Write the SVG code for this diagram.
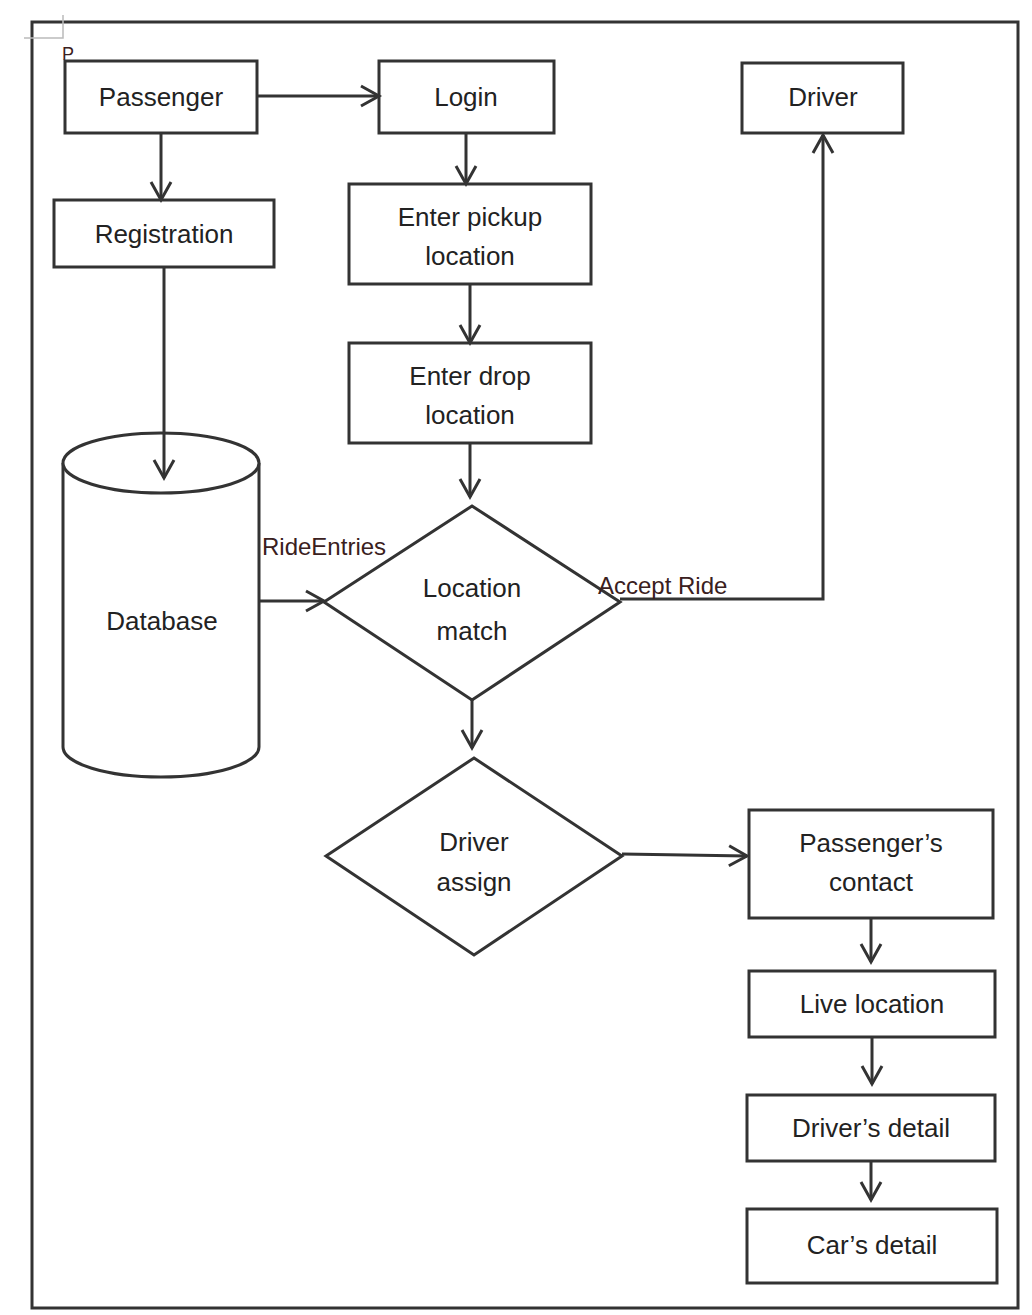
<svg xmlns="http://www.w3.org/2000/svg" width="1032" height="1315" viewBox="0 0 1032 1315">
<style>
.b{fill:#fff;stroke:#333;stroke-width:3}
.t{font-family:"Liberation Sans",Arial,sans-serif;font-size:26px;fill:#222;text-anchor:middle}
.l{font-family:"Liberation Sans",Arial,sans-serif;font-size:24px;fill:#3a2020}
.c{fill:none;stroke:#333;stroke-width:3}
</style>
<defs><marker id="a" markerWidth="24" markerHeight="24" refX="20" refY="12" orient="auto" markerUnits="userSpaceOnUse"><path d="M2,2 L20,12 L2,22" fill="none" stroke="#333" stroke-width="3"/></marker></defs>
<rect width="1032" height="1315" fill="#fff"/>
<rect x="32" y="22" width="986" height="1286" fill="none" stroke="#333" stroke-width="3"/>
<path d="M24,38 H63 V15" fill="none" stroke="#bbb" stroke-width="1.5"/>
<text x="62" y="60" class="l" style="font-size:18px">P</text>
<g id="passenger"><rect class="b" x="65" y="61" width="192" height="72"/><text class="t" x="161" y="106">Passenger</text></g>
<g id="login"><rect class="b" x="379" y="61" width="175" height="72"/><text class="t" x="466" y="106">Login</text></g>
<g id="driver"><rect class="b" x="742" y="63" width="161" height="70"/><text class="t" x="823" y="106">Driver</text></g>
<g id="registration"><rect class="b" x="54" y="200" width="220" height="67"/><text class="t" x="164" y="243">Registration</text></g>
<g id="pickup"><rect class="b" x="349" y="184" width="242" height="100"/><text class="t" x="470" y="226">Enter pickup</text><text class="t" x="470" y="265">location</text></g>
<g id="drop"><rect class="b" x="349" y="343" width="242" height="100"/><text class="t" x="470" y="385">Enter drop</text><text class="t" x="470" y="424">location</text></g>
<g id="database"><path class="b" d="M63,463 V747 A98,30 0 0 0 259,747 V463"/><ellipse class="b" cx="161" cy="463" rx="98" ry="30"/><text class="t" x="162" y="630">Database</text></g>
<g id="locmatch"><polygon class="b" points="472,506 620,602 472,700 324,602"/><text class="t" x="472" y="597">Location</text><text class="t" x="472" y="640">match</text></g>
<g id="assign"><polygon class="b" points="474,758 622,856 474,955 326,856"/><text class="t" x="474" y="851">Driver</text><text class="t" x="474" y="891">assign</text></g>
<g id="pcontact"><rect class="b" x="749" y="810" width="244" height="108"/><text class="t" x="871" y="852">Passenger’s</text><text class="t" x="871" y="891">contact</text></g>
<g id="live"><rect class="b" x="749" y="971" width="246" height="66"/><text class="t" x="872" y="1013">Live location</text></g>
<g id="ddetail"><rect class="b" x="747" y="1095" width="248" height="66"/><text class="t" x="871" y="1137">Driver’s detail</text></g>
<g id="cdetail"><rect class="b" x="747" y="1209" width="250" height="74"/><text class="t" x="872" y="1254">Car’s detail</text></g>
<g id="connectors">
<path class="c" d="M257,96 H379" marker-end="url(#a)"/>
<path class="c" d="M161,133 V200" marker-end="url(#a)"/>
<path class="c" d="M466,133 V184" marker-end="url(#a)"/>
<path class="c" d="M470,284 V343" marker-end="url(#a)"/>
<path class="c" d="M470,443 V497" marker-end="url(#a)"/>
<path class="c" d="M164,267 V478" marker-end="url(#a)"/>
<path class="c" d="M259,601 H324" marker-end="url(#a)"/>
<path class="c" d="M620,599 H823 V135" marker-end="url(#a)"/>
<path class="c" d="M472,700 V748" marker-end="url(#a)"/>
<path class="c" d="M622,854 L747,856" marker-end="url(#a)"/>
<path class="c" d="M871,918 V962" marker-end="url(#a)"/>
<path class="c" d="M872,1037 V1084" marker-end="url(#a)"/>
<path class="c" d="M871,1161 V1200" marker-end="url(#a)"/>
<text class="l" x="262" y="555">RideEntries</text>
<text class="l" x="598" y="594">Accept Ride</text>
</g>
</svg>
